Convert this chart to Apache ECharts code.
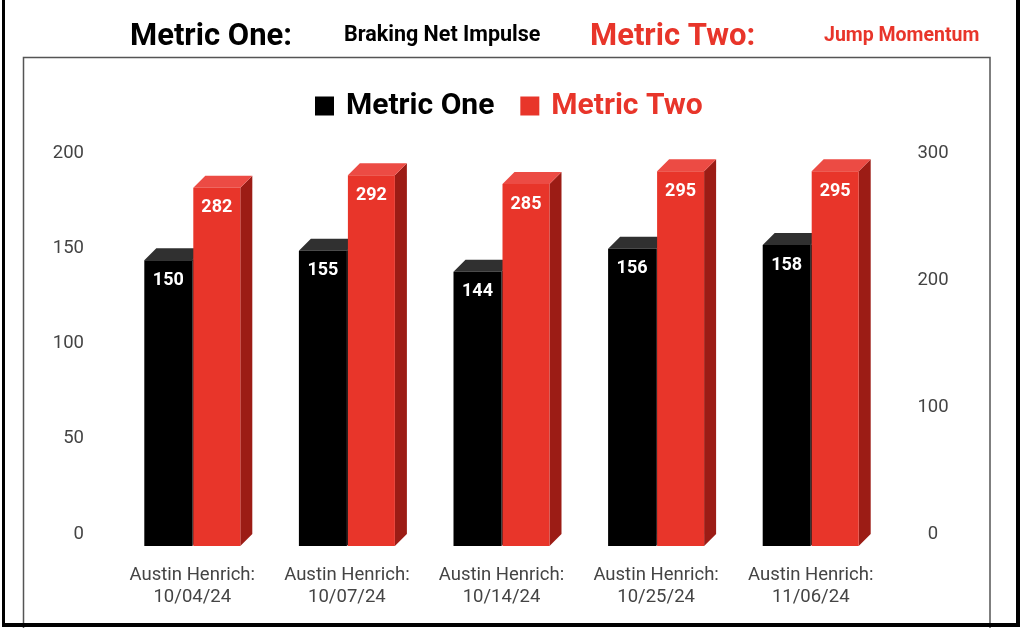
<!DOCTYPE html>
<html>
<head>
<meta charset="utf-8">
<script src="https://cdn.jsdelivr.net/npm/echarts@6/dist/echarts.min.js"></script>
<style>
html,body{margin:0;padding:0;background:#fff;}
#chart{width:1029px;height:628px;}
</style>
</head>
<body>
<div id="chart"></div>
<script>
var categories = ['Austin Henrich:\n10/04/24','Austin Henrich:\n10/07/24','Austin Henrich:\n10/14/24','Austin Henrich:\n10/25/24','Austin Henrich:\n11/06/24'];
var seriesNames = ['Metric One','Metric Two'];
var metricOne = [150,155,144,156,158];
var metricTwo = [282,292,285,295,295];
var leftTicks = {min:0,max:200,interval:50};
var rightTicks = {min:0,max:300,interval:100};

var FONT = 'Roboto, "Noto Sans", sans-serif';
var DEPTH = 12;
var BARW = 48;

function makeRender(side, front, top, sideColor) {
  return function (params, api) {
    var idx = api.value(0), val = api.value(1);
    var p = api.coord([idx, val]);
    var z = api.coord([idx, 0]);
    var cx = p[0];
    var x0 = side === 0 ? cx - BARW : cx + 1;
    var x1 = x0 + BARW - (side === 0 ? 0 : 1);
    var yt = p[1] + DEPTH, yb = z[1] + DEPTH;
    return {
      type: 'group',
      children: [
        {type:'polygon', shape:{points:[[x1,yb],[x1+DEPTH,yb-DEPTH],[x1+DEPTH,yt-DEPTH],[x1,yt]]}, style:{fill:sideColor}},
        {type:'polygon', shape:{points:[[x0,yt],[x1,yt],[x1+DEPTH,yt-DEPTH],[x0+DEPTH,yt-DEPTH]]}, style:{fill:top}},
        {type:'rect', shape:{x:x0,y:yt,width:x1-x0,height:yb-yt}, style:{fill:front}},
        {type:'text', style:{text:String(val), x:(x0+x1)/2, y:yt+20, align:'center', verticalAlign:'middle', fill:'#fff', font:'bold 18px ' + FONT}}
      ]
    };
  };
}

var chart = echarts.init(document.getElementById('chart'));
chart.setOption({
  animation: false,
  backgroundColor: '#fff',
  textStyle: {fontFamily: FONT},
  legend: {
    top: 86,
    left: 310,
    itemWidth: 19,
    itemHeight: 19,
    itemGap: 26,
    icon: 'rect',
    data: [
      {name: seriesNames[0], textStyle:{color:'#000'}},
      {name: seriesNames[1], textStyle:{color:'#E8352A'}}
    ],
    textStyle: {fontSize: 30, fontWeight: 'bold', fontFamily: FONT, padding:[0,0,0,7]}
  },
  grid: {left: 115, right: 141, top: 153, bottom: 94},
  xAxis: {
    type: 'category',
    data: categories,
    axisLine: {show:false},
    axisTick: {show:false},
    axisLabel: {color:'#444', fontSize:18.5, lineHeight:22, margin:30, fontFamily: FONT, interval:0}
  },
  yAxis: [
    {type:'value', min:leftTicks.min, max:leftTicks.max, interval:leftTicks.interval, position:'left',
     splitLine:{show:false}, axisLine:{show:false}, axisTick:{show:false},
     axisLabel:{color:'#444', fontSize:18.5, margin:31, padding:[5,0,0,0], fontFamily: FONT}},
    {type:'value', min:rightTicks.min, max:rightTicks.max, interval:rightTicks.interval, position:'right',
     splitLine:{show:false}, axisLine:{show:false}, axisTick:{show:false},
     axisLabel:{color:'#444', fontSize:18.5, margin:45, padding:[5,0,0,0], align:'center', fontFamily: FONT}}
  ],
  series: [
    {name: seriesNames[0], type:'custom', yAxisIndex:0, itemStyle:{color:'#000'},
     renderItem: makeRender(0,'#000000','#303030','#1a1a1a'),
     encode:{x:0,y:1},
     data: metricOne.map(function(v,i){return [i,v];})},
    {name: seriesNames[1], type:'custom', yAxisIndex:1, itemStyle:{color:'#E8352A'},
     renderItem: makeRender(1,'#E8352A','#EC4B44','#9C1C15'),
     encode:{x:0,y:1},
     data: metricTwo.map(function(v,i){return [i,v];})}
  ],
  graphic: [
    {type:'rect', shape:{x:23.5,y:57.5,width:966.5,height:600}, style:{fill:'none', stroke:'#555', lineWidth:1.5}, z:-1},
    {type:'rect', shape:{x:2,y:-10,width:3,height:637}, style:{fill:'#000'}},
    {type:'rect', shape:{x:1016,y:-10,width:4,height:637}, style:{fill:'#000'}},
    {type:'rect', shape:{x:2,y:623,width:1018,height:4}, style:{fill:'#000'}},
    {type:'text', style:{text:'Metric One:', x:130, y:37, verticalAlign:'middle', fill:'#000', font:'bold 31px ' + FONT}},
    {type:'text', style:{text:'Braking Net Impulse', x:344, y:36, verticalAlign:'middle', fill:'#000', font:'bold 21.5px ' + FONT}},
    {type:'text', style:{text:'Metric Two:', x:590, y:37, verticalAlign:'middle', fill:'#E8352A', font:'bold 31px ' + FONT}},
    {type:'text', style:{text:'Jump Momentum', x:824, y:36, verticalAlign:'middle', fill:'#E8352A', font:'bold 19.5px ' + FONT}}
  ]
});
</script>
</body>
</html>
